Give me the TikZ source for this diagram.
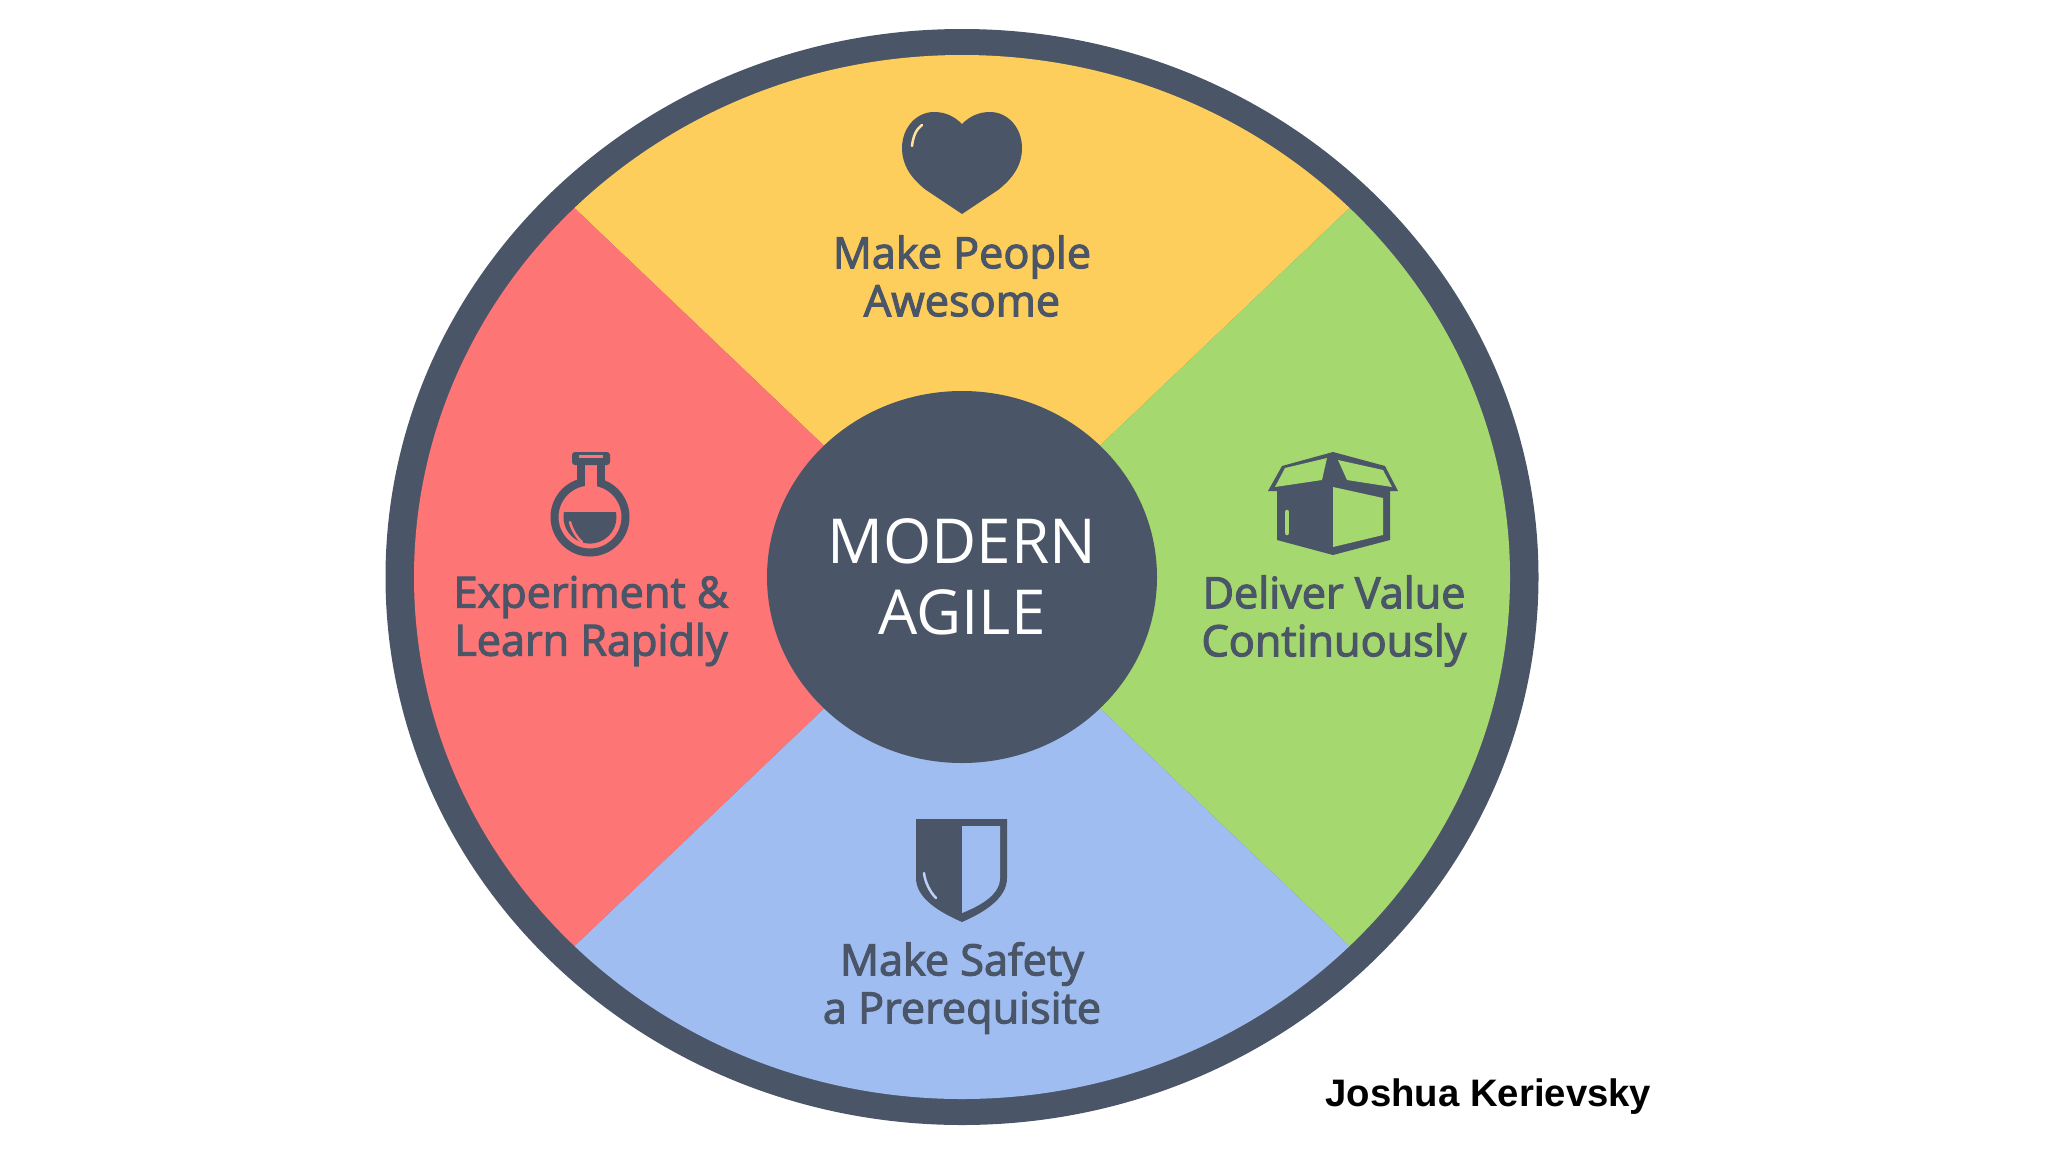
\documentclass[tikz,border=0pt]{standalone}
\usepackage{fontspec}
\setmainfont{Open Sans}
\newfontfamily\namefont{Liberation Sans}
\newfontfamily\labfont[FakeBold=2.6]{Open Sans}
\usepackage{xcolor}
\usetikzlibrary{shapes,positioning}
\definecolor{ink}{HTML}{4B5568}
\definecolor{sunny}{HTML}{FDCE5B}
\definecolor{coral}{HTML}{FE7575}
\definecolor{leaf}{HTML}{A5D86F}
\definecolor{sky}{HTML}{9FBDF0}
\tikzset{lab/.style={align=center,text=ink,font=\labfont\fontsize{43.2}{48}\selectfont},
  hub/.style={ellipse,fill=ink,text=white,align=center,inner sep=0pt,minimum width=390pt,minimum height=372pt,font=\fontsize{62}{71}\selectfont}}

\begin{document}
\begin{tikzpicture}[x=1pt,y=-1pt]
    \useasboundingbox (0,0) rectangle (2048,1152);
    \coordinate (ctr) at (962,577);

    % ring and wedges
    \fill[ink] (ctr) ellipse [x radius=576.5,y radius=548];
    \begin{scope}
    \clip (ctr) ellipse [x radius=548,y radius=522];
    \fill[sunny] (ctr) -- (189,-159) -- (1735,-159) -- cycle;
    \fill[leaf] (ctr) -- (1735,-159) -- (1735,1313) -- cycle;
    \fill[sky] (ctr) -- (1735,1313) -- (189,1313) -- cycle;
    \fill[coral] (ctr) -- (189,1313) -- (189,-159) -- cycle;
    \end{scope}

    \node[hub] (hub) at (ctr) {MODERN\\AGILE};
    \node[lab] (people) at (962,276) {Make People\\Awesome};
    \node[lab] (learn) at (591,621) {Experiment \&\\Learn Rapidly};
    \node[lab] (value) at (1334,621) {Deliver Value\\Continuously};
    \node[lab] (safety) at (962,988) {Make Safety\\a Prerequisite};
    \node[anchor=base west,font=\fontsize{38.3}{38}\namefont\bfseries] (author) at (1322,1106) {Joshua Kerievsky};

    % heart
    \fill[ink] (962,214) -- (926,190) .. controls (912,179) and (902,166) .. (902,148)
        .. controls (902,128) and (916,112) .. (934,112)
        .. controls (945,112) and (954,116) .. (962,124)
        .. controls (970,116) and (979,112) .. (990,112)
        .. controls (1008,112) and (1022,128) .. (1022,148)
        .. controls (1022,166) and (1012,179) .. (998,190) -- cycle;
    \draw[sunny!60!white,line width=2.5pt,line cap=round] (922,125) .. controls (916,129) and (913,137) .. (912,146);

    % flask
    \draw[ink,line width=8pt] (590,517) circle [radius=35.5];
    \draw[ink,line width=8pt] (581,460) -- (581,486);
    \draw[ink,line width=8pt] (601,460) -- (601,486);
    \fill[coral] (585,464) rectangle (597,490);
    \fill[ink,rounded corners=3pt] (572,452) rectangle (610,465);
    \draw[coral,line width=3pt] (579,456) -- (603,456);
    \fill[ink] (564,512) -- (616,512) arc [start angle=-11,end angle=191,radius=26.5] -- cycle;
    \draw[coral,line width=2.5pt,line cap=round] (570,522) .. controls (572,530) and (577,538) .. (582,542);

    % box
    \fill[ink] (1277,491) -- (1282,470) -- (1333,453) -- (1385,470) -- (1390,491) -- (1390,540) -- (1333,555) -- (1277,540) -- cycle;
    \fill[ink] (1268,491) -- (1282,466) -- (1333,452) -- (1385,466) -- (1398,491) -- cycle;
    \fill[leaf] (1285,468) -- (1327,458) -- (1322,480) -- (1275,487) -- cycle;
    \fill[leaf] (1338,460) -- (1383,470) -- (1392,487) -- (1347,480) -- cycle;
    \fill[leaf] (1333,487) -- (1383,498) -- (1383,535) -- (1333,547) -- cycle;
    \draw[leaf,line width=4.5pt,line cap=round] (1287,512) -- (1287,533);

    % shield
    \fill[ink] (916,819) -- (1007,819) -- (1007,878) .. controls (1007,898) and (985,912) .. (962,922)
        .. controls (939,912) and (916,898) .. (916,878) -- cycle;
    \fill[sky] (962,826) -- (1000,826) -- (1000,878) .. controls (1000,894) and (982,905) .. (962,913) -- cycle;
    \draw[sky!70!white,line width=2.5pt,line cap=round] (924,873) .. controls (925,882) and (930,892) .. (936,898);
\end{tikzpicture}
\end{document}
